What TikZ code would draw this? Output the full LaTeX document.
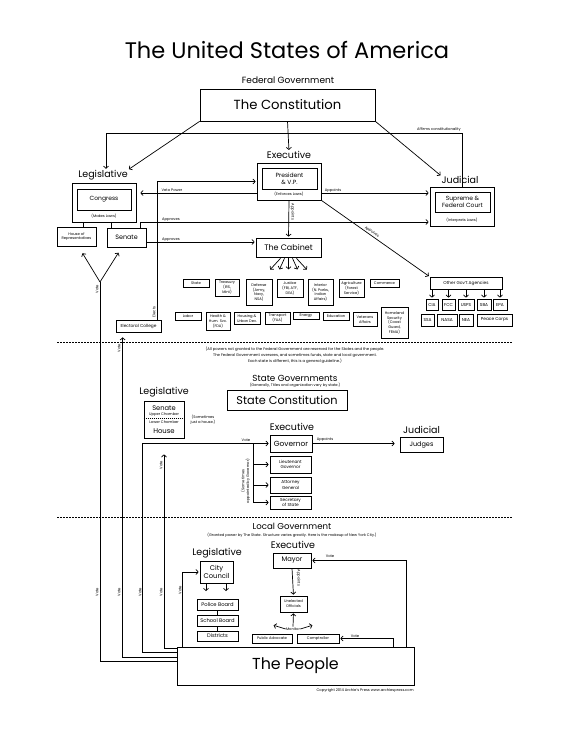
\documentclass[tikz,border=0pt]{standalone}
\usepackage{fontspec}
\setmainfont{Poppins}
\usetikzlibrary{arrows.meta,calc}

\begin{document}
\begin{tikzpicture}[x=1pt, y=-1pt, line width=0.7pt,
    box/.style={draw, inner sep=0pt, align=center},
    lbl/.style={inner sep=0pt, align=center},
    arr/.style={-{Straight Barb[length=2.2pt,width=5pt]}, shorten >=1pt},
    sep/.style={dash pattern=on 1.6pt off 1.4pt, line width=0.7pt},
    ftiny/.style={font=\fontsize{3.7}{4.8}\selectfont},
    fsmall/.style={font=\fontsize{4.3}{5.3}\selectfont},
    fbox/.style={font=\fontsize{6}{7.2}\selectfont},
    fhead/.style={font=\fontsize{9.5}{11}\selectfont},
    dept/.style={box, anchor=north, ftiny},
    agency/.style={box, fsmall, minimum height=11},
    vote/.style={lbl, ftiny, rotate=90}]
\useasboundingbox (0,0) rectangle (570,738);
\fill[white] (0,0) rectangle (570,738);

% federal level
\node[lbl, font=\fontsize{22.5}{27}\selectfont] (title) at (287,50) {The United States of America};
\node[lbl, font=\fontsize{9}{11}\selectfont] (fedgov) at (288,80) {Federal Government};
\node[box, minimum width=175, minimum height=32, font=\fontsize{13.2}{15}\selectfont] (const) at (287.5,105) {The Constitution};
\node[lbl, fhead] (execlbl) at (289,155) {Executive};
\node[lbl, fhead] (leglbl) at (103,175) {Legislative};
\node[lbl, fhead] (judlbl) at (460,180) {Judicial};

\node[box, minimum width=64, minimum height=39] (legbox) at (104,202.5) {};
\node[box, minimum width=54, minimum height=21, fbox] (congress) at (104,199.5) {Congress};
\node[lbl, ftiny] (makeslaws) at (104,216) {(Makes Laws)};
\node[box, minimum width=39, minimum height=19, ftiny] (house) at (76.5,236.5) {House of\\Representatives};
\node[box, minimum width=39, minimum height=19, font=\fontsize{6.4}{7.5}\selectfont] (senate) at (126.5,237.5) {Senate};

\node[box, minimum width=64, minimum height=37] (pres) at (289,181.5) {};
\node[box, minimum width=55, minimum height=21, fbox] (presin) at (289.5,178.5) {President\\\& V.P.};
\node[lbl, ftiny] (enforces) at (289,194.5) {(Enforces Laws)};
\node[box, minimum width=64, minimum height=39] (judbox) at (462,206.5) {};
\node[box, minimum width=55, minimum height=20, fbox] (court) at (462.5,202) {Supreme \&\\Federal Court};
\node[lbl, ftiny] (interprets) at (462,220.5) {(Interprets Laws)};
\node[box, minimum width=65, minimum height=19, font=\fontsize{8}{9}\selectfont] (cabinet) at (288.5,247.5) {The Cabinet};
\node[box, minimum width=45, minimum height=12, fsmall] (elect) at (138.5,326) {Electoral College};

% departments
\node[dept, minimum width=26, minimum height=8] (state) at (196,279) {State};
\node[dept, minimum width=24, minimum height=17] (treasury) at (227,279) {Treasury\\(IRS,\\Mint)};
\node[dept, minimum width=26, minimum height=26] (defense) at (259,279) {Defense\\(Army,\\Navy,\\NSA)};
\node[dept, minimum width=26, minimum height=18] (justice) at (290,279) {Justice\\(FBI, ATF,\\DEA)};
\node[dept, minimum width=25, minimum height=26] (interior) at (320.5,279) {Interior\\(N. Parks,\\Indian\\Affairs)};
\node[dept, minimum width=25, minimum height=18] (agriculture) at (351.5,279) {Agriculture\\(Forest\\Service)};
\node[dept, minimum width=29, minimum height=8] (commerce) at (384.5,279) {Commerce};
\node[dept, minimum width=26, minimum height=8] (labor) at (188,312) {Labor};
\node[dept, minimum width=24, minimum height=18] (health) at (218,312) {Health \&\\Hum. Svc.\\(FDA)};
\node[dept, minimum width=26, minimum height=12] (housing) at (247,312) {Housing \&\\Urban Dev.};
\node[dept, minimum width=25, minimum height=12] (transport) at (277.5,312) {Transport\\(FAA)};
\node[dept, minimum width=26, minimum height=7] (energy) at (306,312) {Energy};
\node[dept, minimum width=26, minimum height=8] (education) at (336,312) {Education};
\node[dept, minimum width=24, minimum height=14] (veterans) at (365,312) {Veterans\\Affairs};
\node[dept, minimum width=27, minimum height=31] (homeland) at (394.5,307) {Homeland\\Security\\(Coast\\Guard,\\FEMA)};

% agencies
\node[box, minimum width=72, minimum height=12, fsmall] (ogab) at (466,283) {Other Gov't Agencies};
\node[agency, minimum width=12] (cia) at (432,304.5) {CIA};
\node[agency, minimum width=13] (fcc) at (448.5,304.5) {FCC};
\node[agency, minimum width=16] (usps) at (466,304.5) {USPS};
\node[agency, minimum width=14] (sba) at (484,304.5) {SBA};
\node[agency, minimum width=14] (epa) at (500,304.5) {EPA};
\node[agency, minimum width=13, minimum height=12] (ssa) at (427.5,320) {SSA};
\node[agency, minimum width=20, minimum height=12] (nasa) at (447,320) {NASA};
\node[agency, minimum width=14, minimum height=12] (nea) at (466,320) {NEA};
\node[agency, minimum width=35, minimum height=12] (peace) at (494.5,320) {Peace Corps};

% federal connectors
\draw[arr] (const.south) -- (execlbl.north);
\draw[arr] (const.south west) -- (leglbl.north east);
\draw[arr] (const.south east) -- (judlbl.north west);
\coordinate (affl) at (106,133);
\draw[arr] (judbox.north) |- (affl) -- (affl |- leglbl.north);
\node[lbl, ftiny, anchor=south east] (affirms) at (461,131.5) {Affirms constitutionality};
\draw (legbox.south -| 83,0) -- (house.north -| 83,0);
\draw (legbox.south -| 111,0) -- (senate.north -| 111,0);
\draw[arr] ($(elect.north east)+(-4,0)$) |- (pres.west);
\node[vote] (elects) at (154,312) {Elects};
\draw[arr] ($(pres.west)+(0,11.5)$) -- ($(pres.west -| legbox.east)+(3,11.5)$);
\node[lbl, ftiny] (veto) at (172,190.5) {Veto Power};
\draw[arr] ($(senate.north east)+(-6,0)$) |- ($(judbox.west)+(0,15.5)$);
\node[lbl, ftiny] (approves1) at (171,219.5) {Approves};
\draw[arr] ($(senate.east)+(0,4.5)$) -- ($(cabinet.west)+(0,-5.5)$);
\node[lbl, ftiny] (approves2) at (171,239.5) {Approves};
\draw[arr] ($(pres.east)+(0,11.5)$) -- ($(pres.east -| judbox.west)+(0,11.5)$);
\node[lbl, ftiny] (appoints1) at (333,190.5) {Appoints};
\draw[arr] (pres.south) -- (cabinet.north);
\node[lbl, ftiny, rotate=-90] (appoints2) at (292.5,212) {Appoints};
\draw[arr] (pres.south east) -- node[lbl, ftiny, sloped, above=1pt, pos=0.45] (appoints3) {Appoints} (ogab.north west);
\foreach \dx/\ex in {-8/-19, -4/-9.5, 0/0, 4/9.5, 8/19}
    \draw[arr] ($(cabinet.south)+(\dx,1)$) -- ($(cabinet.south)+(\ex,13)$);
\foreach \a in {cia,fcc,usps,sba,epa}
    \draw[arr] (ogab.south -| \a.north) -- (\a.north);

% state level
\draw[sep] (57,342) -- (512,342);
\node[lbl, font=\fontsize{3.8}{6}\selectfont] (notes) at (295,355) {(All powers not granted to the Federal Government are reserved for the States and the people.\\The Federal Government oversees, and sometimes funds, state and local government.\\Each state is different, this is a general guideline.)};
\node[lbl, font=\fontsize{8.8}{10}\selectfont] (stategov) at (295,378) {State Governments};
\node[lbl, ftiny] (stategen) at (295,385.5) {(Generally, Titles and organization vary by state.)};
\node[box, minimum width=120, minimum height=20, font=\fontsize{11.3}{13}\selectfont] (stcons) at (287,400) {State Constitution};
\node[lbl, fhead] (stleglbl) at (164,392) {Legislative};
\node[box, minimum width=40, minimum height=37] (stleg) at (164,419.5) {};
\node[lbl, font=\fontsize{6.7}{8}\selectfont] (stsenate) at (164,408) {Senate};
\node[lbl, ftiny] (upper) at (164,414.5) {Upper Chamber};
\draw[dash pattern=on 1pt off 1pt, line width=0.4pt] (stleg.west |- 0,418.5) -- (stleg.east |- 0,418.5);
\node[lbl, ftiny] (lower) at (164,422.5) {Lower Chamber};
\node[lbl, font=\fontsize{6.9}{8}\selectfont] (sthouse) at (164,431.5) {House};
\node[lbl, ftiny] (sometimes) at (203,420) {(Sometimes\\just a house.)};
\node[lbl, fhead] (stexeclbl) at (292,427) {Executive};
\node[box, minimum width=42, minimum height=17, font=\fontsize{7.4}{9}\selectfont] (governor) at (291,443.5) {Governor};
\node[box, minimum width=41, minimum height=17, fsmall] (ltgov) at (290.5,464.5) {Lieutenant\\Governor};
\node[box, minimum width=41, minimum height=16, fsmall] (attgen) at (290.5,485) {Attorney\\General};
\node[box, minimum width=41, minimum height=13, fsmall] (secstate) at (290.5,502.5) {Secretary\\of State};
\node[lbl, fhead] (stjudlbl) at (421.5,430) {Judicial};
\node[box, minimum width=43, minimum height=15, font=\fontsize{6.5}{8}\selectfont] (judges) at (421.5,444.5) {Judges};
\draw[arr] (governor.east) -- ($(judges.west)+(-4,-1)$);
\node[lbl, ftiny] (appoints4) at (325,439.5) {Appoints};
\draw (253,443.5) -- (253,502.5);
\foreach \b in {ltgov,attgen,secstate}
    \draw[arr] (253,0 |- \b.west) -- (\b.west);
\node[lbl, ftiny, rotate=90] (appointed) at (245.5,481) {(Sometimes\\appointed by Governor)};
\node[lbl, ftiny] (govvote) at (246,440.5) {Vote};

% local level
\draw[sep] (57,517) -- (512,517);
\node[lbl, font=\fontsize{8.6}{10}\selectfont] (localgov) at (292,526) {Local Government};
\node[lbl, ftiny] (localsub) at (292,535) {(Granted power by The State. Structure varies greatly. Here is the makeup of New York City.)};
\node[lbl, fhead] (locexeclbl) at (293,545) {Executive};
\node[box, minimum width=38, minimum height=15, font=\fontsize{6.7}{8}\selectfont] (mayor) at (292,560.5) {Mayor};
\node[box, minimum width=27, minimum height=16, ftiny] (unelected) at (293.5,604) {Unelected\\Officials};
\node[lbl, ftiny] (monitor) at (293,629) {Monitor};
\node[box, minimum width=40, minimum height=9, ftiny] (pubadv) at (272,638.5) {Public Advocate};
\node[box, minimum width=42, minimum height=9, ftiny] (comptroller) at (318,638.5) {Comptroller};
\draw[arr] (mayor.south) -- (unelected.north);
\node[lbl, ftiny, rotate=-90] (appoints5) at (298.5,578) {Appoints};
\draw[arr] ($(monitor.north)+(0,-0.5)$) -- (unelected.south);
\draw[arr] (monitor.west) -- ++(-13,-4);
\draw[arr] (monitor.east) -- ++(13,-4);
\node[lbl, fhead] (loclegl) at (217,553) {Legislative};
\node[box, minimum width=33, minimum height=22, font=\fontsize{6.8}{7.6}\selectfont] (council) at (216.5,572) {City\\Council};
\node[box, minimum width=41, minimum height=11, font=\fontsize{5.2}{6}\selectfont] (police) at (217.5,604.5) {Police Board};
\node[box, minimum width=41, minimum height=11, font=\fontsize{5.2}{6}\selectfont] (school) at (217.5,620.5) {School Board};
\node[box, minimum width=41, minimum height=10, font=\fontsize{5.2}{6}\selectfont] (districts) at (217.5,636) {Districts};
\draw[arr] (council.south -| 206,0) -- (206,592);
\draw[arr] (council.south -| 226,0) -- (226,592);
\draw (police) -- (school);
\draw (school) -- (districts);

\node[box, minimum width=237, minimum height=38, font=\fontsize{15.9}{18}\selectfont] (people) at (295.5,666) {The People};
\node[lbl, ftiny, anchor=east] (copyright) at (414,690.5) {Copyright 2014 Archie's Press www.archiespress.com};

% the vote lines
\coordinate (vy) at (100,282);
\draw[arr] (vy) -- ($(house.south)+(5.5,6)$);
\draw[arr] (vy) -- ($(senate.south)+(-7.5,4.5)$);
\draw (vy) |- ($(people.north west)+(0,15)$);
\draw[arr] ($(people.north west)+(0,11)$) -| ($(elect.south west)+(7,4)$);
\draw[arr] ($(people.north west)+(0,6)$) -| ([xshift=-1pt]stleg.west |- governor.west) -- (governor.west);
\draw[arr] ($(people.north west)+(0,2)$) -| ($(stleg.south)+(0,15)$);
\draw[arr] ($(people.north west)+(6,0)$) |- (council.west);
\draw[arr] ($(people.north east)+(-8,0)$) |- (mayor.east);
\draw[arr] ($(people.north east)+(-21,0)$) |- (comptroller.east);
\node[vote] (vote1) at (97,289) {Vote};
\node[vote] (vote2) at (97,592) {Vote};
\node[vote] (vote3) at (119,348) {Vote};
\node[vote] (vote4) at (119,592) {Vote};
\node[vote] (vote5) at (140,592) {Vote};
\node[vote] (vote6) at (161,465) {Vote};
\node[vote] (vote7) at (161,592) {Vote};
\node[vote] (vote8) at (180,590) {Vote};
\node[lbl, ftiny] (vote9) at (330,556.5) {Vote};
\node[lbl, ftiny] (vote10) at (355,636.5) {Vote};
\end{tikzpicture}
\end{document}
